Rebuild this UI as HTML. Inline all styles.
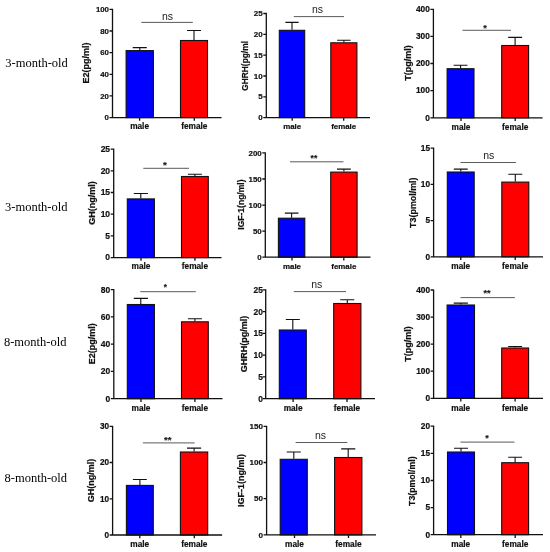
<!DOCTYPE html>
<html><head><meta charset="utf-8"><title>Hormone levels</title>
<style>html,body{margin:0;padding:0;background:#fff}svg{display:block}
.t{font-family:"Liberation Sans",Arial,sans-serif;font-weight:bold;fill:#111;stroke:#111;stroke-width:0.2px}
.x{font-family:"Liberation Sans",Arial,sans-serif;font-weight:bold;fill:#111;stroke:#111;stroke-width:0.2px}
.s{font-family:"Liberation Sans",Arial,sans-serif;font-size:10.5px;fill:#222}
.st{font-family:"Liberation Sans",Arial,sans-serif;font-weight:bold;fill:#111;stroke:#111;stroke-width:0.15px}
.y{font-family:"Liberation Sans",Arial,sans-serif;font-weight:bold;font-size:9px;fill:#111;stroke:#111;stroke-width:0.2px}
.r{font-family:"Liberation Serif","Times New Roman",serif;font-size:12.5px;fill:#000}
</style></head><body>
<svg width="550" height="552" viewBox="0 0 550 552">
<rect width="550" height="552" fill="#fff"/>
<text class="r" x="5.3" y="67.2">3-month-old</text>
<text class="r" x="5.0" y="210.6">3-month-old</text>
<text class="r" x="3.9" y="345.6">8-month-old</text>
<text class="r" x="4.6" y="481.9">8-month-old</text>
<g><path d="M139.8 50.1V47.6M132.7 47.6H146.8" stroke="#111" stroke-width="1.1" fill="none"/>
<rect x="126.1" y="50.6" width="27.3" height="67.0" fill="#0000ff" stroke="#111" stroke-width="1.1"/>
<path d="M194.0 40.0V30.5M187.0 30.5H201.0" stroke="#111" stroke-width="1.1" fill="none"/>
<rect x="180.5" y="40.5" width="27.0" height="77.1" fill="#ff0000" stroke="#111" stroke-width="1.1"/>
<path d="M112.5 8.7V117.6H221.5M112.5 117.6h-3.0M112.5 95.9h-3.0M112.5 74.3h-3.0M112.5 52.6h-3.0M112.5 31.0h-3.0M112.5 9.3h-3.0M139.6 117.6v3.2M194.3 117.6v3.2" stroke="#111" stroke-width="1.3" fill="none"/>
<text class="t" text-anchor="end" font-size="7.8" x="108.9" y="120.2">0</text>
<text class="t" text-anchor="end" font-size="7.8" x="108.9" y="98.5">20</text>
<text class="t" text-anchor="end" font-size="7.8" x="108.9" y="76.9">40</text>
<text class="t" text-anchor="end" font-size="7.8" x="108.9" y="55.2">60</text>
<text class="t" text-anchor="end" font-size="7.8" x="108.9" y="33.6">80</text>
<text class="t" text-anchor="end" font-size="7.8" x="108.9" y="11.9">100</text>
<text class="x" text-anchor="middle" font-size="8.3" x="139.6" y="129.0">male</text>
<text class="x" text-anchor="middle" font-size="8.3" x="194.3" y="129.0">female</text>
<path d="M141.3 22.4H192.8" stroke="#3c3c3c" stroke-width="0.85" fill="none"/>
<text class="s" text-anchor="middle" x="167.5" y="19.6">ns</text>
<text class="y" text-anchor="middle" transform="translate(89.0 63.1) rotate(-90)">E2(pg/ml)</text></g>
<g><path d="M292.0 29.8V22.4M285.4 22.4H298.6" stroke="#111" stroke-width="1.1" fill="none"/>
<rect x="279.3" y="30.3" width="25.4" height="87.3" fill="#0000ff" stroke="#111" stroke-width="1.1"/>
<path d="M343.9 42.3V40.2M337.1 40.2H350.6" stroke="#111" stroke-width="1.1" fill="none"/>
<rect x="330.8" y="42.8" width="26.1" height="74.8" fill="#ff0000" stroke="#111" stroke-width="1.1"/>
<path d="M266.3 12.8V117.6H370.0M266.3 117.6h-3.0M266.3 96.8h-3.0M266.3 76.0h-3.0M266.3 55.1h-3.0M266.3 34.3h-3.0M266.3 13.5h-3.0M292.2 117.6v3.2M343.7 117.6v3.2" stroke="#111" stroke-width="1.3" fill="none"/>
<text class="t" text-anchor="end" font-size="8.0" x="262.7" y="120.3">0</text>
<text class="t" text-anchor="end" font-size="8.0" x="262.7" y="99.4">5</text>
<text class="t" text-anchor="end" font-size="8.0" x="262.7" y="78.6">10</text>
<text class="t" text-anchor="end" font-size="8.0" x="262.7" y="57.8">15</text>
<text class="t" text-anchor="end" font-size="8.0" x="262.7" y="37.0">20</text>
<text class="t" text-anchor="end" font-size="8.0" x="262.7" y="16.2">25</text>
<text class="x" text-anchor="middle" font-size="7.9" x="292.2" y="129.0">male</text>
<text class="x" text-anchor="middle" font-size="7.9" x="343.7" y="129.0">female</text>
<path d="M293.8 16.6H344.0" stroke="#3c3c3c" stroke-width="0.85" fill="none"/>
<text class="s" text-anchor="middle" x="317.5" y="12.7">ns</text>
<text class="y" text-anchor="middle" textLength="49.7" lengthAdjust="spacingAndGlyphs" transform="translate(248.4 65.9) rotate(-90)">GHRH(pg/ml</text></g>
<g><path d="M460.6 68.2V65.2M453.6 65.2H467.5" stroke="#111" stroke-width="1.1" fill="none"/>
<rect x="447.1" y="68.7" width="26.9" height="49.1" fill="#0000ff" stroke="#111" stroke-width="1.1"/>
<path d="M515.1 45.0V37.4M508.2 37.4H522.1" stroke="#111" stroke-width="1.1" fill="none"/>
<rect x="501.7" y="45.5" width="26.9" height="72.3" fill="#ff0000" stroke="#111" stroke-width="1.1"/>
<path d="M433.4 8.7V117.8H542.6M433.4 117.8h-3.0M433.4 90.7h-3.0M433.4 63.5h-3.0M433.4 36.4h-3.0M433.4 9.3h-3.0M461.0 117.8v3.2M515.2 117.8v3.2" stroke="#111" stroke-width="1.3" fill="none"/>
<text class="t" text-anchor="end" font-size="8.3" x="429.8" y="120.6">0</text>
<text class="t" text-anchor="end" font-size="8.3" x="429.8" y="93.4">100</text>
<text class="t" text-anchor="end" font-size="8.3" x="429.8" y="66.3">200</text>
<text class="t" text-anchor="end" font-size="8.3" x="429.8" y="39.2">300</text>
<text class="t" text-anchor="end" font-size="8.3" x="429.8" y="12.1">400</text>
<text class="x" text-anchor="middle" font-size="8.3" x="461.0" y="129.6">male</text>
<text class="x" text-anchor="middle" font-size="8.3" x="515.2" y="129.6">female</text>
<path d="M462.5 30.3H511.0" stroke="#3c3c3c" stroke-width="0.85" fill="none"/>
<text class="st" text-anchor="middle" font-size="9.2" x="485.0" y="31.3">*</text>
<text class="y" text-anchor="middle" transform="translate(411.1 62.9) rotate(-90)">T(pg/ml)</text></g>
<g><path d="M140.8 198.4V193.5M133.8 193.5H147.9" stroke="#111" stroke-width="1.1" fill="none"/>
<rect x="127.3" y="198.9" width="27.1" height="58.7" fill="#0000ff" stroke="#111" stroke-width="1.1"/>
<path d="M194.9 176.0V174.3M187.9 174.3H201.9" stroke="#111" stroke-width="1.1" fill="none"/>
<rect x="181.5" y="176.5" width="26.8" height="81.1" fill="#ff0000" stroke="#111" stroke-width="1.1"/>
<path d="M113.7 148.4V257.6H221.5M113.7 257.6h-3.0M113.7 235.9h-3.0M113.7 214.2h-3.0M113.7 192.5h-3.0M113.7 170.8h-3.0M113.7 149.1h-3.0M141.0 257.6v3.2M194.9 257.6v3.2" stroke="#111" stroke-width="1.3" fill="none"/>
<text class="t" text-anchor="end" font-size="8.5" x="110.1" y="260.4">0</text>
<text class="t" text-anchor="end" font-size="8.5" x="110.1" y="238.7">5</text>
<text class="t" text-anchor="end" font-size="8.5" x="110.1" y="217.0">10</text>
<text class="t" text-anchor="end" font-size="8.5" x="110.1" y="195.3">15</text>
<text class="t" text-anchor="end" font-size="8.5" x="110.1" y="173.6">20</text>
<text class="t" text-anchor="end" font-size="8.5" x="110.1" y="151.9">25</text>
<text class="x" text-anchor="middle" font-size="8.3" x="141.0" y="269.1">male</text>
<text class="x" text-anchor="middle" font-size="8.3" x="194.9" y="269.1">female</text>
<path d="M143.3 168.3H189.0" stroke="#3c3c3c" stroke-width="0.85" fill="none"/>
<text class="st" text-anchor="middle" font-size="9.8" x="164.8" y="168.4">*</text>
<text class="y" text-anchor="middle" transform="translate(94.9 203.0) rotate(-90)">GH(ng/ml)</text></g>
<g><path d="M291.6 217.7V213.1M284.8 213.1H298.5" stroke="#111" stroke-width="1.1" fill="none"/>
<rect x="278.4" y="218.2" width="26.4" height="39.0" fill="#0000ff" stroke="#111" stroke-width="1.1"/>
<path d="M343.9 171.6V169.1M337.0 169.1H350.8" stroke="#111" stroke-width="1.1" fill="none"/>
<rect x="330.7" y="172.1" width="26.4" height="85.1" fill="#ff0000" stroke="#111" stroke-width="1.1"/>
<path d="M265.3 152.2V257.2H370.5M265.3 257.2h-3.0M265.3 231.1h-3.0M265.3 205.1h-3.0M265.3 179.0h-3.0M265.3 152.9h-3.0M292.0 257.2v3.2M343.8 257.2v3.2" stroke="#111" stroke-width="1.3" fill="none"/>
<text class="t" text-anchor="end" font-size="7.9" x="261.7" y="259.8">0</text>
<text class="t" text-anchor="end" font-size="7.9" x="261.7" y="233.8">50</text>
<text class="t" text-anchor="end" font-size="7.9" x="261.7" y="207.7">100</text>
<text class="t" text-anchor="end" font-size="7.9" x="261.7" y="181.6">150</text>
<text class="t" text-anchor="end" font-size="7.9" x="261.7" y="155.5">200</text>
<text class="x" text-anchor="middle" font-size="7.9" x="292.0" y="268.8">male</text>
<text class="x" text-anchor="middle" font-size="7.9" x="343.8" y="268.8">female</text>
<path d="M290.0 161.8H343.5" stroke="#3c3c3c" stroke-width="0.85" fill="none"/>
<text class="st" text-anchor="middle" font-size="8.6" x="313.9" y="160.6">**</text>
<text class="y" text-anchor="middle" textLength="50.2" lengthAdjust="spacingAndGlyphs" transform="translate(243.8 204.6) rotate(-90)">IGF-1(ng/ml)</text></g>
<g><path d="M460.8 171.5V169.1M453.8 169.1H467.7" stroke="#111" stroke-width="1.1" fill="none"/>
<rect x="447.3" y="172.0" width="26.9" height="84.8" fill="#0000ff" stroke="#111" stroke-width="1.1"/>
<path d="M515.3 181.6V174.3M508.3 174.3H522.3" stroke="#111" stroke-width="1.1" fill="none"/>
<rect x="501.8" y="182.1" width="27.0" height="74.7" fill="#ff0000" stroke="#111" stroke-width="1.1"/>
<path d="M433.6 147.4V256.8H543.0M433.6 256.8h-3.0M433.6 220.6h-3.0M433.6 184.3h-3.0M433.6 148.1h-3.0M460.8 256.8v3.2M515.2 256.8v3.2" stroke="#111" stroke-width="1.3" fill="none"/>
<text class="t" text-anchor="end" font-size="8.3" x="430.0" y="259.6">0</text>
<text class="t" text-anchor="end" font-size="8.3" x="430.0" y="223.3">5</text>
<text class="t" text-anchor="end" font-size="8.3" x="430.0" y="187.1">10</text>
<text class="t" text-anchor="end" font-size="8.3" x="430.0" y="150.9">15</text>
<text class="x" text-anchor="middle" font-size="8.3" x="460.8" y="268.8">male</text>
<text class="x" text-anchor="middle" font-size="8.3" x="515.2" y="268.8">female</text>
<path d="M460.5 162.5H515.9" stroke="#3c3c3c" stroke-width="0.85" fill="none"/>
<text class="s" text-anchor="middle" x="488.8" y="158.8">ns</text>
<text class="y" text-anchor="middle" textLength="50.4" lengthAdjust="spacingAndGlyphs" transform="translate(415.8 202.7) rotate(-90)">T3(pmol/ml)</text></g>
<g><path d="M140.8 304.0V298.4M133.8 298.4H147.9" stroke="#111" stroke-width="1.1" fill="none"/>
<rect x="127.3" y="304.5" width="27.1" height="94.2" fill="#0000ff" stroke="#111" stroke-width="1.1"/>
<path d="M194.9 321.3V318.8M187.9 318.8H201.9" stroke="#111" stroke-width="1.1" fill="none"/>
<rect x="181.5" y="321.8" width="26.8" height="76.9" fill="#ff0000" stroke="#111" stroke-width="1.1"/>
<path d="M113.8 289.1V398.7H222.5M113.8 398.7h-3.0M113.8 371.4h-3.0M113.8 344.2h-3.0M113.8 316.9h-3.0M113.8 289.7h-3.0M141.0 398.7v3.2M194.9 398.7v3.2" stroke="#111" stroke-width="1.3" fill="none"/>
<text class="t" text-anchor="end" font-size="8.5" x="110.2" y="401.5">0</text>
<text class="t" text-anchor="end" font-size="8.5" x="110.2" y="374.3">20</text>
<text class="t" text-anchor="end" font-size="8.5" x="110.2" y="347.0">40</text>
<text class="t" text-anchor="end" font-size="8.5" x="110.2" y="319.8">60</text>
<text class="t" text-anchor="end" font-size="8.5" x="110.2" y="292.5">80</text>
<text class="x" text-anchor="middle" font-size="8.3" x="141.0" y="410.8">male</text>
<text class="x" text-anchor="middle" font-size="8.3" x="194.9" y="410.8">female</text>
<path d="M140.3 291.7H195.8" stroke="#3c3c3c" stroke-width="0.85" fill="none"/>
<text class="st" text-anchor="middle" font-size="8.2" x="165.3" y="290.0">*</text>
<text class="y" text-anchor="middle" transform="translate(94.8 343.7) rotate(-90)">E2(pg/ml)</text></g>
<g><path d="M292.8 329.5V319.5M285.8 319.5H299.8" stroke="#111" stroke-width="1.1" fill="none"/>
<rect x="279.3" y="330.0" width="27.0" height="68.7" fill="#0000ff" stroke="#111" stroke-width="1.1"/>
<path d="M347.3 303.0V299.7M340.2 299.7H354.3" stroke="#111" stroke-width="1.1" fill="none"/>
<rect x="333.7" y="303.5" width="27.2" height="95.2" fill="#ff0000" stroke="#111" stroke-width="1.1"/>
<path d="M265.7 289.2V398.7H375.0M265.7 398.7h-3.0M265.7 376.9h-3.0M265.7 355.2h-3.0M265.7 333.4h-3.0M265.7 311.7h-3.0M265.7 289.9h-3.0M293.1 398.7v3.2M347.0 398.7v3.2" stroke="#111" stroke-width="1.3" fill="none"/>
<text class="t" text-anchor="end" font-size="8.4" x="262.8" y="401.5">0</text>
<text class="t" text-anchor="end" font-size="8.4" x="262.8" y="379.7">5</text>
<text class="t" text-anchor="end" font-size="8.4" x="262.8" y="358.0">10</text>
<text class="t" text-anchor="end" font-size="8.4" x="262.8" y="336.2">15</text>
<text class="t" text-anchor="end" font-size="8.4" x="262.8" y="314.5">20</text>
<text class="t" text-anchor="end" font-size="8.4" x="262.8" y="292.7">25</text>
<text class="x" text-anchor="middle" font-size="8.3" x="293.1" y="411.0">male</text>
<text class="x" text-anchor="middle" font-size="8.3" x="347.0" y="411.0">female</text>
<path d="M293.8 291.6H346.0" stroke="#3c3c3c" stroke-width="0.85" fill="none"/>
<text class="s" text-anchor="middle" x="316.7" y="287.8">ns</text>
<text class="y" text-anchor="middle" transform="translate(247.0 344.0) rotate(-90)">GHRH(pg/ml)</text></g>
<g><path d="M460.8 304.5V303.1M453.7 303.1H467.9" stroke="#111" stroke-width="1.1" fill="none"/>
<rect x="447.1" y="305.0" width="27.4" height="93.3" fill="#0000ff" stroke="#111" stroke-width="1.1"/>
<path d="M515.1 347.5V346.5M508.2 346.5H522.1" stroke="#111" stroke-width="1.1" fill="none"/>
<rect x="501.7" y="348.0" width="26.9" height="50.3" fill="#ff0000" stroke="#111" stroke-width="1.1"/>
<path d="M433.6 289.4V398.3H543.0M433.6 398.3h-3.0M433.6 371.2h-3.0M433.6 344.1h-3.0M433.6 317.1h-3.0M433.6 290.0h-3.0M460.8 398.3v3.2M515.1 398.3v3.2" stroke="#111" stroke-width="1.3" fill="none"/>
<text class="t" text-anchor="end" font-size="8.3" x="430.0" y="401.1">0</text>
<text class="t" text-anchor="end" font-size="8.3" x="430.0" y="374.0">100</text>
<text class="t" text-anchor="end" font-size="8.3" x="430.0" y="346.9">200</text>
<text class="t" text-anchor="end" font-size="8.3" x="430.0" y="319.8">300</text>
<text class="t" text-anchor="end" font-size="8.3" x="430.0" y="292.8">400</text>
<text class="x" text-anchor="middle" font-size="8.3" x="460.8" y="410.9">male</text>
<text class="x" text-anchor="middle" font-size="8.3" x="515.1" y="410.9">female</text>
<path d="M460.5 297.6H514.9" stroke="#3c3c3c" stroke-width="0.85" fill="none"/>
<text class="st" text-anchor="middle" font-size="9.0" x="487.1" y="296.2">**</text>
<text class="y" text-anchor="middle" transform="translate(410.8 343.9) rotate(-90)">T(pg/ml)</text></g>
<g><path d="M139.9 484.9V479.5M132.9 479.5H146.8" stroke="#111" stroke-width="1.1" fill="none"/>
<rect x="126.4" y="485.4" width="26.9" height="49.6" fill="#0000ff" stroke="#111" stroke-width="1.1"/>
<path d="M194.1 451.5V448.1M187.0 448.1H201.1" stroke="#111" stroke-width="1.1" fill="none"/>
<rect x="180.4" y="452.0" width="27.3" height="83.0" fill="#ff0000" stroke="#111" stroke-width="1.1"/>
<path d="M112.6 425.7V535.0H222.1M112.6 535.0h-3.0M112.6 498.8h-3.0M112.6 462.5h-3.0M112.6 426.3h-3.0M139.8 535.0v3.2M194.3 535.0v3.2" stroke="#111" stroke-width="1.3" fill="none"/>
<text class="t" text-anchor="end" font-size="8.2" x="109.0" y="537.7">0</text>
<text class="t" text-anchor="end" font-size="8.2" x="109.0" y="501.5">10</text>
<text class="t" text-anchor="end" font-size="8.2" x="109.0" y="465.3">20</text>
<text class="t" text-anchor="end" font-size="8.2" x="109.0" y="429.0">30</text>
<text class="x" text-anchor="middle" font-size="8.3" x="139.8" y="547.1">male</text>
<text class="x" text-anchor="middle" font-size="8.3" x="194.3" y="547.1">female</text>
<path d="M142.9 442.9H194.6" stroke="#3c3c3c" stroke-width="0.85" fill="none"/>
<text class="st" text-anchor="middle" font-size="9.6" x="167.7" y="442.5">**</text>
<text class="y" text-anchor="middle" transform="translate(94.0 480.5) rotate(-90)">GH(ng/ml)</text></g>
<g><path d="M293.8 458.8V452.0M286.7 452.0H300.8" stroke="#111" stroke-width="1.1" fill="none"/>
<rect x="280.2" y="459.3" width="27.1" height="75.6" fill="#0000ff" stroke="#111" stroke-width="1.1"/>
<path d="M348.2 457.0V448.9M341.2 448.9H355.3" stroke="#111" stroke-width="1.1" fill="none"/>
<rect x="334.6" y="457.5" width="27.3" height="77.4" fill="#ff0000" stroke="#111" stroke-width="1.1"/>
<path d="M266.6 425.7V534.9H376.0M266.6 534.9h-3.0M266.6 498.7h-3.0M266.6 462.5h-3.0M266.6 426.3h-3.0M294.5 534.9v3.2M348.5 534.9v3.2" stroke="#111" stroke-width="1.3" fill="none"/>
<text class="t" text-anchor="end" font-size="8.1" x="263.0" y="537.6">0</text>
<text class="t" text-anchor="end" font-size="8.1" x="263.0" y="501.4">50</text>
<text class="t" text-anchor="end" font-size="8.1" x="263.0" y="465.2">100</text>
<text class="t" text-anchor="end" font-size="8.1" x="263.0" y="429.0">150</text>
<text class="x" text-anchor="middle" font-size="8.3" x="294.5" y="547.0">male</text>
<text class="x" text-anchor="middle" font-size="8.3" x="348.5" y="547.0">female</text>
<path d="M295.6 442.5H347.3" stroke="#3c3c3c" stroke-width="0.85" fill="none"/>
<text class="s" text-anchor="middle" x="320.5" y="439.1">ns</text>
<text class="y" text-anchor="middle" transform="translate(243.8 480.6) rotate(-90)">IGF-1(ng/ml)</text></g>
<g><path d="M461.0 451.5V448.3M454.0 448.3H468.0" stroke="#111" stroke-width="1.1" fill="none"/>
<rect x="447.5" y="452.0" width="27.0" height="82.7" fill="#0000ff" stroke="#111" stroke-width="1.1"/>
<path d="M515.1 462.2V457.3M508.2 457.3H522.1" stroke="#111" stroke-width="1.1" fill="none"/>
<rect x="501.7" y="462.7" width="26.9" height="72.0" fill="#ff0000" stroke="#111" stroke-width="1.1"/>
<path d="M433.6 425.6V534.7H543.0M433.6 534.7h-3.0M433.6 507.6h-3.0M433.6 480.5h-3.0M433.6 453.3h-3.0M433.6 426.2h-3.0M460.8 534.7v3.2M515.2 534.7v3.2" stroke="#111" stroke-width="1.3" fill="none"/>
<text class="t" text-anchor="end" font-size="8.3" x="430.0" y="537.5">0</text>
<text class="t" text-anchor="end" font-size="8.3" x="430.0" y="510.3">5</text>
<text class="t" text-anchor="end" font-size="8.3" x="430.0" y="483.2">10</text>
<text class="t" text-anchor="end" font-size="8.3" x="430.0" y="456.1">15</text>
<text class="t" text-anchor="end" font-size="8.3" x="430.0" y="429.0">20</text>
<text class="x" text-anchor="middle" font-size="8.3" x="460.8" y="547.0">male</text>
<text class="x" text-anchor="middle" font-size="8.3" x="515.2" y="547.0">female</text>
<path d="M460.5 442.1H514.5" stroke="#3c3c3c" stroke-width="0.85" fill="none"/>
<text class="st" text-anchor="middle" font-size="9.0" x="486.9" y="440.9">*</text>
<text class="y" text-anchor="middle" textLength="49.5" lengthAdjust="spacingAndGlyphs" transform="translate(415.3 481.2) rotate(-90)">T3(pmol/ml)</text></g>
</svg>
</body></html>
